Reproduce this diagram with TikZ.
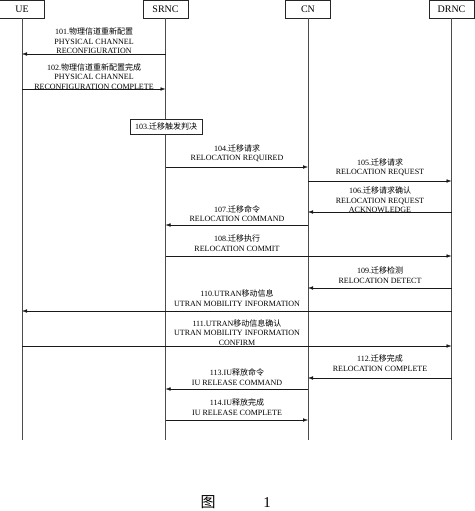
\documentclass[tikz,border=0pt]{standalone}
\usepackage{fontspec}
\setmainfont{Liberation Serif}
\newfontfamily\cjk{Noto Sans CJK SC}
\usepackage{tikz}
\usetikzlibrary{calc, positioning, arrows.meta}

\begin{document}
\begin{tikzpicture}[x=1pt, y=-1pt, >={Latex[length=5pt, width=3.5pt]},
    actor/.style={draw=black!85, fill=white, minimum width=45, minimum height=18, inner sep=0pt, font=\fontsize{10}{12}\selectfont},
    life/.style={draw=black!70, thin},
    msg/.style={->, draw=black!90, thin},
    lbl/.style={align=center, anchor=south, inner sep=0pt, font=\fontsize{8}{9.5}\selectfont}]
    \useasboundingbox (0,0) rectangle (474,511);

    % 1. Các thực thể và đường đời
    \node[actor] (UE) at (22,9) {UE};
    \node[actor] (SRNC) at (165.5,9) {SRNC};
    \node[actor] (CN) at (308,9) {CN};
    \node[actor] (DRNC) at (451.5,9) {DRNC};
    \foreach \n in {UE, SRNC, CN, DRNC}
        \draw[life] (\n.south) -- (\n.south |- 0,440);

    % 2. Cấu hình lại kênh vật lý
    \draw[msg] (SRNC |- 0,54) -- (UE |- 0,54);
    \node[lbl] (m101) at (94,54) {101.{\cjk 物理信道重新配置}\\PHYSICAL CHANNEL\\RECONFIGURATION};
    \draw[msg] (UE |- 0,89) -- (SRNC |- 0,89);
    \node[lbl] (m102) at (94,89.5) {102.{\cjk 物理信道重新配置完成}\\PHYSICAL CHANNEL\\RECONFIGURATION COMPLETE};

    % 3. Quyết định di chuyển
    \node[actor, minimum width=72, minimum height=15, font=\fontsize{8}{9.5}\selectfont] (d103) at (166,126.5) {103.{\cjk 迁移触发判决}};

    % 4. Yêu cầu di chuyển
    \draw[msg] (SRNC |- 0,167) -- (CN |- 0,167);
    \node[lbl] (m104) at (237,162) {104.{\cjk 迁移请求}\\RELOCATION REQUIRED};
    \draw[msg] (CN |- 0,181) -- (DRNC |- 0,181);
    \node[lbl] (m105) at (380,176) {105.{\cjk 迁移请求}\\RELOCATION REQUEST};
    \draw[msg] (DRNC |- 0,212) -- (CN |- 0,212);
    \node[lbl] (m106) at (380,213) {106.{\cjk 迁移请求确认}\\RELOCATION REQUEST\\ACKNOWLEDGE};
    \draw[msg] (CN |- 0,225) -- (SRNC |- 0,225);
    \node[lbl] (m107) at (237,222) {107.{\cjk 迁移命令}\\RELOCATION COMMAND};
    \draw[msg] (SRNC |- 0,256) -- (DRNC |- 0,256);
    \node[lbl] (m108) at (237,251.5) {108.{\cjk 迁移执行}\\RELOCATION COMMIT};
    \draw[msg] (DRNC |- 0,288) -- (CN |- 0,288);
    \node[lbl] (m109) at (380,283.5) {109.{\cjk 迁移检测}\\RELOCATION DETECT};

    % 5. Thông tin di động UTRAN
    \draw[msg] (DRNC |- 0,311) -- (UE |- 0,311);
    \node[lbl] (m110) at (237,306.5) {110.UTRAN{\cjk 移动信息}\\UTRAN MOBILITY INFORMATION};
    \draw[msg] (UE |- 0,346) -- (DRNC |- 0,346);
    \node[lbl] (m111) at (237,345.5) {111.UTRAN{\cjk 移动信息确认}\\UTRAN MOBILITY INFORMATION\\CONFIRM};

    % 6. Hoàn tất và giải phóng Iu
    \draw[msg] (DRNC |- 0,378) -- (CN |- 0,378);
    \node[lbl] (m112) at (380,371.5) {112.{\cjk 迁移完成}\\RELOCATION COMPLETE};
    \draw[msg] (CN |- 0,389) -- (SRNC |- 0,389);
    \node[lbl] (m113) at (237,385.5) {113.IU{\cjk 释放命令}\\IU RELEASE COMMAND};
    \draw[msg] (SRNC |- 0,420) -- (CN |- 0,420);
    \node[lbl] (m114) at (237,415.5) {114.IU{\cjk 释放完成}\\IU RELEASE COMPLETE};

    % 7. Chú thích hình
    \node[font=\fontsize{15}{18}\selectfont\cjk] (fig) at (208,502) {图};
    \node[font=\fontsize{15}{18}\selectfont] (fignum) at (267,503) {1};
\end{tikzpicture}
\end{document}
